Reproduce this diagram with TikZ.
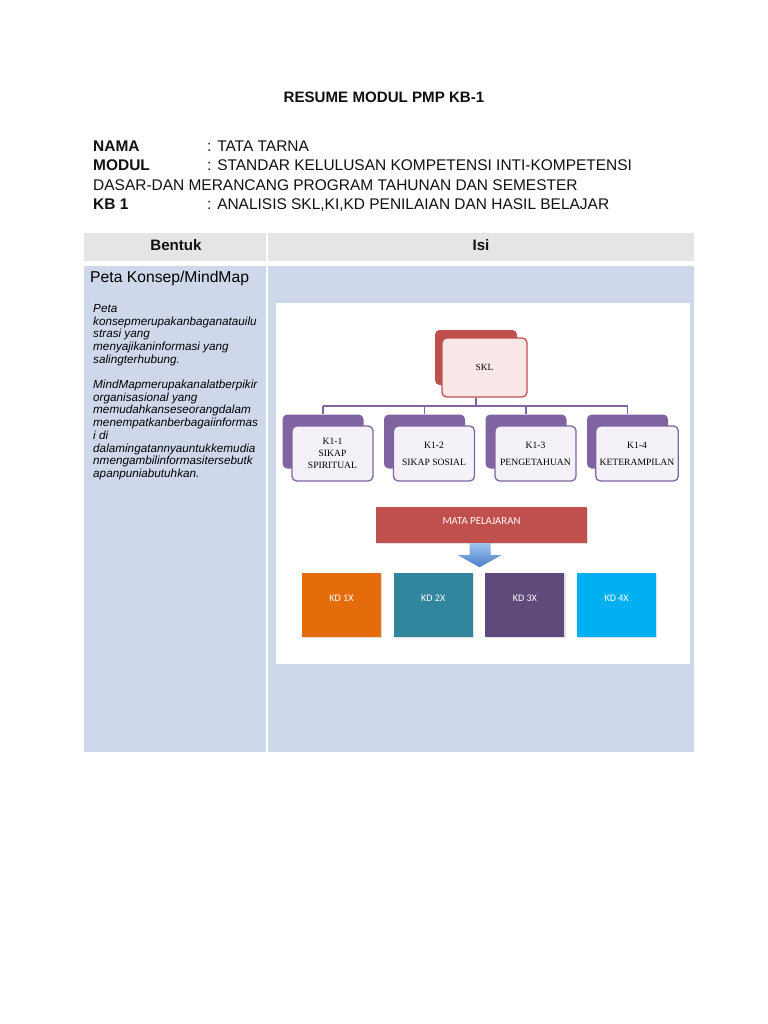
\documentclass[tikz,border=0pt]{standalone}
\usepackage{fontspec}
\setmainfont{Liberation Sans}
\newfontfamily\diagserif{Liberation Serif}
\newfontfamily\diagsans{Carlito}
\usepackage{xcolor}
\usetikzlibrary{positioning,calc,shadows}
\definecolor{Ink}{HTML}{111111}
\definecolor{HeadGrey}{HTML}{E5E5E5}
\definecolor{CellBlue}{HTML}{CFD8EB}
\definecolor{SklRed}{HTML}{C0504D}
\definecolor{SklSoft}{HTML}{F9E7E7}
\definecolor{KiPurple}{HTML}{8064A2}
\definecolor{KiSoft}{HTML}{F4F2F8}
\definecolor{KDOrange}{HTML}{E46C0A}
\definecolor{KDTeal}{HTML}{31859C}
\definecolor{KDPurple}{HTML}{604A7B}
\definecolor{KDCyan}{HTML}{00B0F0}
\definecolor{ArrowTop}{HTML}{9DC3EE}
\definecolor{ArrowBot}{HTML}{4A7EC8}
\tikzset{
  title/.style={font=\bfseries\fontsize{12.9}{15}\selectfont,text=Ink,inner sep=0pt},
  info/.style={font=\fontsize{13.2}{15}\selectfont,text=Ink,inner sep=0pt,anchor=base west},
  infokey/.style={info,font=\bfseries\fontsize{13.2}{15}\selectfont},
  sklback/.style={fill=SklRed,rounded corners=4pt,minimum width=24.6mm,minimum height=16.5mm},
  sklfront/.style={draw=SklRed,line width=1.1pt,fill=SklSoft,rounded corners=4pt,minimum width=25.5mm,minimum height=17.7mm,font=\diagserif\fontsize{8}{9}\selectfont},
  kiback/.style={fill=KiPurple,rounded corners=4pt,minimum width=24.3mm,minimum height=16.2mm},
  kifront/.style={draw=KiPurple,line width=1.1pt,fill=KiSoft,rounded corners=4pt,minimum width=24.3mm,minimum height=16.5mm,align=center,font=\diagserif\fontsize{8.2}{10}\selectfont},
  mapel/.style={fill=SklRed,minimum width=63.3mm,minimum height=10.8mm,text=white,text depth=6pt,font=\diagsans\fontsize{9.2}{11}\selectfont,drop shadow={opacity=0.25,shadow xshift=0.4mm,shadow yshift=-0.4mm}},
  kdbox/.style={minimum width=23.7mm,minimum height=19.2mm,text=white,text depth=12pt,font=\diagsans\fontsize{8.6}{10}\selectfont,drop shadow={opacity=0.25,shadow xshift=0.4mm,shadow yshift=-0.4mm}},
  conn/.style={draw=KiPurple,line width=1.1pt}
}
\begin{document}
\begin{tikzpicture}[x=0.03cm,y=-0.03cm]
  \useasboundingbox (0,0) rectangle (768,1024);
  \fill[white] (0,0) rectangle (768,1024);
  % heading
  \node[title] (head) at (384,97) {RESUME MODUL PMP KB-1};
  \node[infokey] (nama) at (93,151) {NAMA};
  \node[info] (namav) at (207,151) {: TATA TARNA};
  \node[infokey] (modul) at (93,170.5) {MODUL};
  \node[info] (modulv) at (207,170.5) {: STANDAR KELULUSAN KOMPETENSI INTI-KOMPETENSI};
  \node[info] (modulw) at (93,190) {DASAR-DAN MERANCANG PROGRAM TAHUNAN DAN SEMESTER};
  \node[infokey] (kb) at (93,209.5) {KB 1};
  \node[info] (kbv) at (207,209.5) {: ANALISIS SKL,KI,KD PENILAIAN DAN HASIL BELAJAR};
  % table
  \fill[HeadGrey] (84,233) rectangle (694,261);
  \fill[CellBlue] (84,265.5) rectangle (694,752);
  \fill[white] (266,233) rectangle (268,752);
  \node[title] (bentuk) at (176,245.5) {Bentuk};
  \node[title] (isi) at (481,245.5) {Isi};
  \node[anchor=base west,inner sep=0pt,font=\fontsize{13.4}{16}\selectfont] (peta) at (90,282.5) {Peta Konsep/MindMap};
  \node[anchor=north west,inner sep=0pt,align=left,font=\itshape\fontsize{10}{10.85}\selectfont] (desc) at (93,304) {Peta\\
    konsepmerupakanbaganatauilu\\
    strasi yang\\
    menyajikaninformasi yang\\
    salingterhubung.\\[10.85pt]
    MindMapmerupakanalatberpikir\\
    organisasional yang\\
    memudahkanseseorangdalam\\
    menempatkanberbagaiinformas\\
    i di\\
    dalamingatannyauntukkemudia\\
    nmengambilinformasitersebutk\\
    apanpuniabutuhkan.};
  % concept map
  \fill[white] (276,303) rectangle (690,664);
  \node[sklback] (sklb) at (476,357.5) {};
  \node[sklfront] (skl) at (484.5,367.5) {SKL};
  \foreach \i/\t in {1/{K1-1\\SIKAP\\SPIRITUAL},2/{K1-2\\[4.5pt]SIKAP SOSIAL},3/{K1-3\\[4.5pt]PENGETAHUAN},4/{K1-4\\[4.5pt]KETERAMPILAN}} {
    \node[kiback] (k\i b) at ({323+101.5*(\i-1)},441.5) {};
    \node[kifront] (k\i) at ({332.5+101.5*(\i-1)},453.5) {\t};
  }
  \coordinate (bus) at (sklb.south |- 0,406);
  \draw[conn] (sklb.south |- skl.south) -- (bus);
  \draw[conn] (k1b.north |- bus) -- (k4b.north |- bus);
  \foreach \i in {1,...,4} {\draw[conn] (k\i b.north |- bus) -- (k\i b.north);}
  \node[mapel] (mapel) at (481.5,525) {MATA PELAJARAN};
  \foreach \i/\c in {1/KDOrange,2/KDTeal,3/KDPurple,4/KDCyan} {
    \node[kdbox,fill=\c] (kd\i) at ({341.5+91.7*(\i-1)},605) {KD \i X};
  }
  \shade[top color=ArrowTop,bottom color=ArrowBot]
    ($(mapel.south)+(-12,0)$) -- ++(21,0) -- ++(0,12) -- ++(11,0) -- ($(mapel.south)+(-2,24)$)
    -- ($(mapel.south)+(-23.5,12)$) -- ++(11.5,0) -- cycle;
\end{tikzpicture}
\end{document}
